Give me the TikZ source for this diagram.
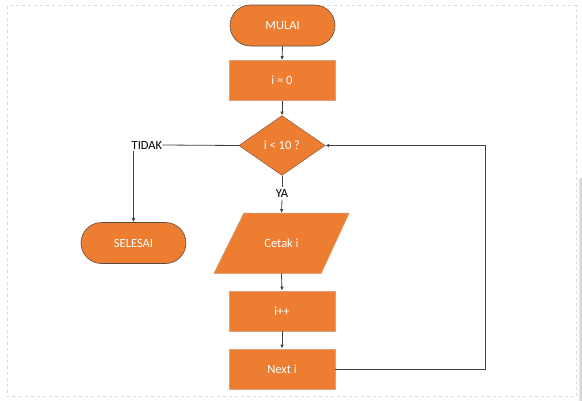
\documentclass[tikz,border=0pt]{standalone}
\usepackage{fontspec}
\setmainfont{Carlito}
\usetikzlibrary{arrows.meta,calc}
\definecolor{orng}{HTML}{ED7D31}
\definecolor{rectedge}{HTML}{D9A27C}
\definecolor{termedge}{HTML}{5A4A40}
\definecolor{linec}{HTML}{404040}
\begin{document}
\begin{tikzpicture}[x=1pt,y=-1pt,
  every node/.style={font=\fontsize{12.5}{14}\selectfont},
  term/.style={fill=orng,draw=termedge,line width=0.6pt,minimum width=105pt,minimum height=41pt,rounded corners=20.5pt,text=white,inner sep=0pt},
  proc/.style={fill=orng,draw=rectedge,line width=0.6pt,minimum width=106pt,minimum height=40pt,text=white,inner sep=0pt},
  io/.style={minimum width=135pt,minimum height=60pt,text=white,inner sep=0pt},
  lbl/.style={text=black,inner sep=0pt},
  conn/.style={draw=linec,line width=0.8pt},
  arr/.style={conn,-{Latex[length=4pt,width=3.5pt]}}]
\useasboundingbox (0,0) rectangle (582,400);
\draw[gray!30,dashed,line width=0.6pt] (7.5,5.5) rectangle (576,396.5);
\shade[left color=white,right color=gray!45] (577,178) rectangle (582,400);

\node[term] (mulai) at (282.5,25.5) {MULAI};
\node[proc] (init) at (282,80.5) {i = 0};
\node[io] (cetak) at (281.5,243.3) {};
\node[proc] (inc) at (282,311) {i++};
\node[proc] (next) at (282,369) {Next i};
\node[term] (selesai) at (133.5,243) {SELESAI};

% diamond
\coordinate (dc) at (282,145.5);
\fill[orng] (239,145.5) -- (282,115.7) -- (325,145.5) -- (282,175.3) -- cycle;
\draw[draw=termedge!70!orng,line width=0.5pt] (239,145.5) -- (282,115.7) -- (325,145.5) -- (282,175.3) -- cycle;
\node[text=white,inner sep=0pt,minimum width=86pt,minimum height=59.6pt] (cond) at (dc) {i < 10 ?};

% parallelogram
\fill[orng] ($(cetak.north west)+(30,0)$) -- (cetak.north east) -- ($(cetak.south east)+(-28,0)$) -- (cetak.south west) -- cycle;
\draw[draw=rectedge,line width=0.5pt] ($(cetak.north west)+(30,0)$) -- (cetak.north east) -- ($(cetak.south east)+(-28,0)$) -- (cetak.south west) -- cycle;
\node[text=white,inner sep=0pt] (cetaktext) at (cetak) {Cetak i};

\node[lbl,anchor=west] (tidak) at (131.5,145) {TIDAK};
\node[lbl] (ya) at (282,193.5) {YA};

\coordinate (tidakdrop) at ($(tidak.south)+(0,2)$);
\coordinate (yatop) at ($(ya.north)+(0,-2)$);
\coordinate (yabot) at ($(ya.south)+(0,2)$);

\draw[arr] (mulai.south) -- (init.north);
\draw[arr] (init.south) -- (cond.north);
\draw[conn] (cond.west) -- (tidak.east);
\draw[arr] (tidakdrop -| selesai.north) -- (selesai.north);
\draw[conn] (cond.south) -- (yatop);
\draw[arr] (yabot) -- (cetak.north);
\draw[arr] (cetak.south) -- (inc.north);
\draw[arr] (inc.south) -- (next.north);
\coordinate (loopx) at (485,0);
\draw[arr] (next.east) -- (next.east -| loopx) -- (cond.east -| loopx) -- (cond.east);
\end{tikzpicture}
\end{document}
